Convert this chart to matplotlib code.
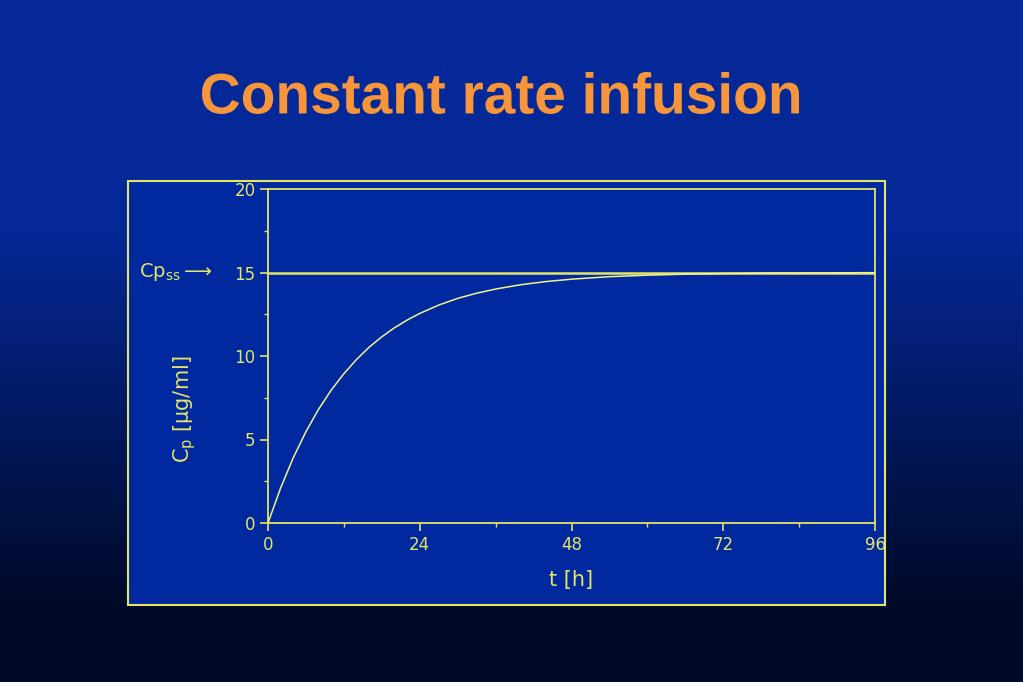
import numpy as np
import matplotlib.pyplot as plt
from matplotlib.patches import Rectangle, PathPatch
from matplotlib.textpath import TextPath
from matplotlib.font_manager import FontProperties
from matplotlib.transforms import Affine2D, IdentityTransform

# plasma concentration (t in hours, Cp in ug/ml)
t_hours = [0, 2, 4, 6, 8, 10, 12, 14, 16, 18, 20, 22, 24, 27, 30, 33, 36,
           40, 44, 48, 54, 60, 66, 72, 80, 88, 96]
cp_values = [0.0, 2.10, 3.91, 5.47, 6.81, 7.96, 8.94, 9.79, 10.53, 11.15,
             11.69, 12.15, 12.55, 13.05, 13.45, 13.76, 14.01, 14.27, 14.46,
             14.60, 14.75, 14.84, 14.90, 14.94, 14.97, 14.98, 14.99]
cp_ss = 15
x_ticks = [0, 24, 48, 72, 96]
y_ticks = [0, 5, 10, 15, 20]
title = 'Constant rate infusion'

yellow = '#e4e466'
line_yellow = '#f2f28a'
panel_blue = '#0029a0'

plt.rcParams['mathtext.default'] = 'regular'

W, H = 1023, 682
fig = plt.figure(figsize=(W / 100, H / 100), dpi=100)

# background gradient (blue at top, fading to dark navy at bottom)
bg = fig.add_axes([0, 0, 1, 1], zorder=-10)
rows = np.linspace(0, 1, 300)
fade = np.clip((rows - 0.33) / 0.55, 0, 1)
top = np.array([0.02, 0.16, 0.60])
bottom = np.array([0.0, 0.04, 0.16])
grad = top[None, :] * (1 - fade[:, None]) + bottom[None, :] * fade[:, None]
bg.imshow(grad[:, None, :], aspect='auto', extent=[0, 1, 0, 1])
bg.axis('off')

# framed panel
fig.patches.append(Rectangle((128 / W, 1 - 605 / H), 757 / W, 424 / H,
                             transform=fig.transFigure, facecolor=panel_blue,
                             edgecolor=yellow, linewidth=1.5, zorder=-5))

# title: bold sans squeezed a bit to look like the condensed original
tp = TextPath((0, 0), title, size=60,
              prop=FontProperties(family='Liberation Sans', weight='bold'))
ext = tp.get_extents()
x0, x1, ytop, ybot = 202, 799, 72, 114
sx = (x1 - x0) / ext.width
sy = (ybot - ytop) / ext.height
tr = Affine2D().translate(-ext.x0, -ext.y0).scale(sx, sy).translate(x0, H - ybot)
fig.patches.append(PathPatch(tr.transform_path(tp), transform=IdentityTransform(),
                             facecolor='#f7953a', edgecolor='none'))

ax = fig.add_axes([268 / W, 1 - 523 / H, 607 / W, 334 / H])
ax.set_facecolor(panel_blue)
ax.plot(t_hours, cp_values, color=line_yellow, linewidth=1.1, zorder=3)
ax.axhline(cp_ss, color=yellow, linewidth=1.8, zorder=2)

ax.set_xlim(0, 96)
ax.set_ylim(0, 20)
ax.set_xticks(x_ticks)
ax.set_yticks(y_ticks)
ax.set_xticks([12, 36, 60, 84], minor=True)
ax.set_yticks([2.5, 7.5, 12.5, 17.5], minor=True)
for s in ax.spines.values():
    s.set_color(yellow)
    s.set_linewidth(1.3)
ax.tick_params(which='major', colors=yellow, labelcolor=yellow, length=6,
               width=1.2, labelsize=12, pad=3)
ax.tick_params(which='minor', colors=yellow, length=3, width=1.0)

ax.set_xlabel('t [h]', color=yellow, fontsize=15, labelpad=12)
ax.set_ylabel(r'C$_p$ [$\mu$g/ml]', color=yellow, fontsize=15)
ax.yaxis.set_label_coords(-0.115, 0.34)

fig.text(139 / W, 1 - 272 / H, r'Cp$_{ss}$$\longrightarrow$', color=yellow,
         fontsize=14, ha='left', va='center')

fig.savefig('out.png', dpi=100)
